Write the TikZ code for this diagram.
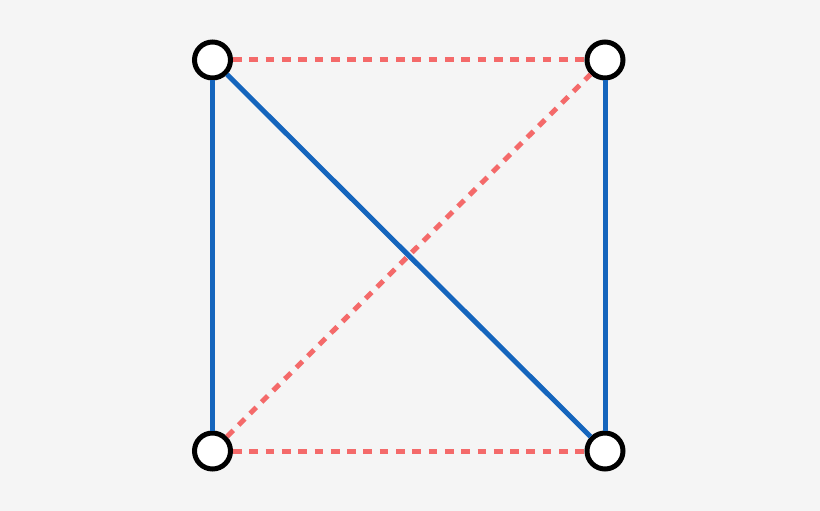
\documentclass[tikz,border=0pt]{standalone}
\definecolor{bg}{HTML}{F5F5F5}
\definecolor{eblue}{HTML}{1565BD}
\definecolor{ered}{HTML}{F46A6A}
\tikzset{
  vert/.style={circle,draw=black,fill=white,line width=5pt,minimum size=36pt,inner sep=0pt},
  solidedge/.style={draw=eblue,line width=5pt},
  dashedge/.style={draw=ered,line width=5pt,dash pattern=on 8.7pt off 7.6pt}
}
\begin{document}
\begin{tikzpicture}[x=1pt,y=-1pt]
\fill[bg] (0,0) rectangle (820,511);
\useasboundingbox (0,0) rectangle (820,511);
\node[vert] (a) at (212.5,60) {};
\node[vert] (b) at (605,60) {};
\node[vert] (c) at (212.5,451) {};
\node[vert] (d) at (605,451) {};
\path[solidedge] (a) -- (c);
\path[solidedge] (b) -- (d);
\path[solidedge] (a) -- (d);
\path[dashedge] (a) -- (b);
\path[dashedge] (c) -- (d);
\path[dashedge] (c) -- (b);
\end{tikzpicture}
\end{document}
